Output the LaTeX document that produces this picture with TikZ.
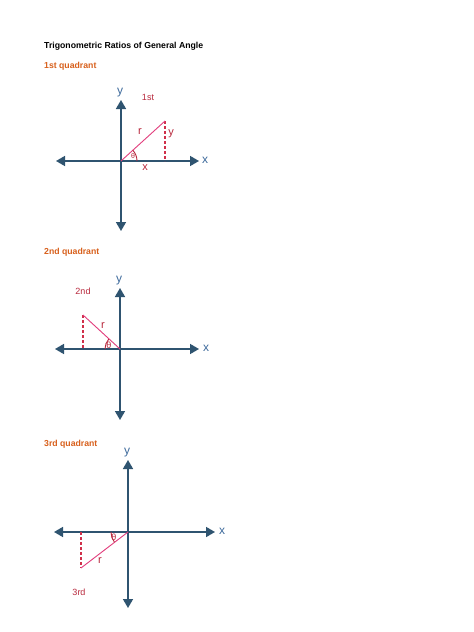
\documentclass[tikz,border=0pt]{standalone}
\usepackage{fontspec}
\setmainfont{Liberation Sans}
\usetikzlibrary{arrows.meta,calc}
\definecolor{axisc}{HTML}{2F5470}
\definecolor{pinkc}{HTML}{E23C7C}
\definecolor{dashc}{HTML}{D0304A}
\definecolor{lblc}{HTML}{3D6A9C}
\definecolor{redc}{HTML}{B8283C}
\definecolor{orangec}{HTML}{D8601C}
\tikzset{
  axisline/.style={draw=axisc, line width=1.6pt, {Triangle[length=9pt,width=10pt]}-{Triangle[length=9pt,width=10pt]}},
  radline/.style={draw=pinkc, line width=0.9pt},
  dropline/.style={draw=dashc, line width=1.1pt, dash pattern=on 3pt off 2pt},
  anglearc/.style={draw=redc, line width=0.9pt},
  axlbl/.style={text=lblc, font=\fontsize{12}{13}\selectfont, inner sep=0pt},
  hand/.style={text=redc, font=\fontsize{9}{10}\selectfont, inner sep=0pt},
  handb/.style={hand, font=\fontsize{11}{12}\selectfont},
  thlbl/.style={text=redc, inner sep=0pt, font=\fontsize{9}{10}\selectfont},
  title/.style={anchor=west, inner sep=0pt, font=\fontsize{8.7}{10}\selectfont\bfseries},
  qtitle/.style={anchor=west, inner sep=0pt, text=orangec, font=\fontsize{8.7}{10}\selectfont\bfseries},
}
\begin{document}
\begin{tikzpicture}[x=1pt,y=-1pt]
\useasboundingbox[fill=white] (0,0) rectangle (474,632);
\node[title] (t) at (44,46) {Trigonometric Ratios of General Angle};
\node[qtitle] (q1) at (44,66) {1st quadrant};
\node[qtitle] (q2) at (44,252) {2nd quadrant};
\node[qtitle] (q3) at (44,444) {3rd quadrant};

% Quadrant 1
\coordinate (o1) at (121,161);
\coordinate (l1) at (56,161);
\coordinate (r1) at (199,161);
\coordinate (u1) at (121,100);
\coordinate (d1) at (121,231);
\draw[axisline] (l1) -- (r1);
\draw[axisline] (u1) -- (d1);
\node[axlbl] (x1) at (205,160) {x};
\node[axlbl] (y1) at (120,93) {y};
\coordinate (p1) at (165,121);
\coordinate (f1) at (165,161);
\draw[dropline] (p1) -- (f1);
\draw[radline] (o1) -- (p1);
\draw[anglearc] ($(o1)+(16,0)$) arc[start angle=0, end angle=-42, radius=16];
\node[thlbl, font=\fontsize{7}{8}\selectfont] (th1) at (133,156) {θ};
\node[hand] (n1) at (148,97) {1st};
\node[handb] (ry1) at (171,134) {y};
\node[handb] (rr1) at (140,132) {r};
\node[handb] (rx1) at (145,168) {x};

% Quadrant 2
\coordinate (o2) at (120,349);
\coordinate (l2) at (55,349);
\coordinate (r2) at (199,349);
\coordinate (u2) at (120,288);
\coordinate (d2) at (120,420);
\draw[axisline] (l2) -- (r2);
\draw[axisline] (u2) -- (d2);
\node[axlbl] (x2) at (206,348) {x};
\node[axlbl] (y2) at (119,281) {y};
\coordinate (p2) at (83,315);
\coordinate (f2) at (83,349);
\draw[dropline] (p2) -- (f2);
\draw[radline] (o2) -- (p2);
\draw[anglearc] ($(o2)+(-15,0)$) arc[start angle=180, end angle=221, radius=15];
\node[thlbl] (th2) at (109,345) {θ};
\node[hand] (n2) at (83,291) {2nd};
\node[handb] (rr2) at (103,326) {r};

% Quadrant 3
\coordinate (o3) at (128,532);
\coordinate (l3) at (54,532);
\coordinate (r3) at (215,532);
\coordinate (u3) at (128,460);
\coordinate (d3) at (128,608);
\draw[axisline] (l3) -- (r3);
\draw[axisline] (u3) -- (d3);
\node[axlbl] (x3) at (222,531) {x};
\node[axlbl] (y3) at (127,453) {y};
\coordinate (p3) at (81,568);
\coordinate (f3) at (81,532);
\draw[dropline] (f3) -- (p3);
\draw[radline] (o3) -- (p3);
\draw[anglearc] ($(o3)+(-17,0)$) arc[start angle=180, end angle=143, radius=17];
\node[thlbl] (th3) at (114,537) {θ};
\node[hand] (n3) at (79,592) {3rd};
\node[handb] (rr3) at (100,561) {r};
\end{tikzpicture}
\end{document}
